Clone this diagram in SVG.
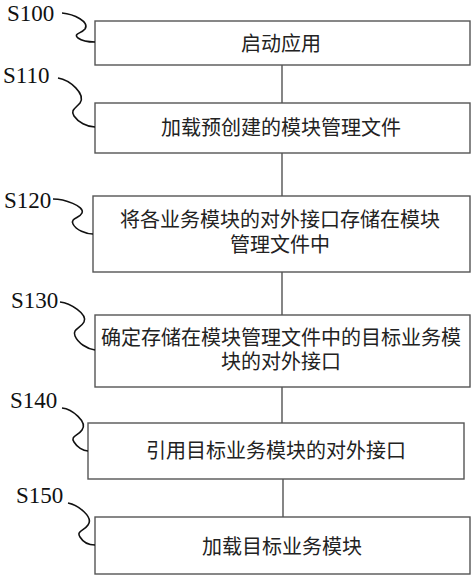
<svg xmlns="http://www.w3.org/2000/svg" width="474" height="578" viewBox="0 0 474 578">
<style>
.box{fill:#fff;stroke:#555;stroke-width:1.4}
.t{font-family:"Noto Sans CJK SC","Noto Sans CJK JP",sans-serif;font-size:20px;fill:#222;text-anchor:middle}
.lbl{font-family:"Liberation Serif",serif;font-size:23px;fill:#111}
.sq{fill:none;stroke:#111;stroke-width:1.6}
.c{stroke:#444;stroke-width:1.3;fill:none}
</style>
<rect width="474" height="578" fill="#fff"/>
<g id="connectors">
<line class="c" x1="282" y1="65" x2="282" y2="103"/>
<line class="c" x1="282" y1="153" x2="282" y2="196"/>
<line class="c" x1="282" y1="272" x2="282" y2="315"/>
<line class="c" x1="282" y1="387" x2="282" y2="423"/>
<line class="c" x1="283" y1="479" x2="283" y2="517"/>
</g>
<g id="s100">
<rect class="box" x="95" y="21" width="375" height="44"/>
<text class="t" x="281" y="51">启动应用</text>
<text class="lbl" x="7" y="21">S100</text>
<path class="sq" d="M62,13 C74,14 90,22 85,29 C81,34 73,33 78,38 C82,41 89,42 95,42"/>
</g>
<g id="s110">
<rect class="box" x="95" y="103" width="375" height="50"/>
<text class="t" x="281" y="135">加载预创建的模块管理文件</text>
<text class="lbl" x="3" y="83">S110</text>
<path class="sq" d="M58,78 C70,80 86,94 80,103 C76,108 70,110 74,116 C78,122 87,127 95,127"/>
</g>
<g id="s120">
<rect class="box" x="93" y="196" width="377" height="76"/>
<text class="t" x="280" y="227">将各业务模块的对外接口存储在模块</text>
<text class="t" x="280" y="252">管理文件中</text>
<text class="lbl" x="4" y="208">S120</text>
<path class="sq" d="M53,199 C64,199 85,206 82,213 C80,218 70,218 73,224 C76,230 86,234 93,234"/>
</g>
<g id="s130">
<rect class="box" x="95" y="315" width="375" height="72"/>
<text class="t" x="281" y="345">确定存储在模块管理文件中的目标业务模</text>
<text class="t" x="281" y="369">块的对外接口</text>
<text class="lbl" x="11" y="308">S130</text>
<path class="sq" d="M60,302 C70,303 88,314 84,322 C81,328 72,329 75,336 C78,343 87,349 95,350"/>
</g>
<g id="s140">
<rect class="box" x="88" y="423" width="376" height="56"/>
<text class="t" x="276" y="458">引用目标业务模块的对外接口</text>
<text class="lbl" x="10" y="408">S140</text>
<path class="sq" d="M62,408 C72,409 88,422 82,430 C78,436 70,436 74,442 C77,447 83,451 88,451"/>
</g>
<g id="s150">
<rect class="box" x="95" y="517" width="375" height="57"/>
<text class="t" x="282" y="554">加载目标业务模块</text>
<text class="lbl" x="16" y="503">S150</text>
<path class="sq" d="M68,503 C78,505 94,517 88,525 C84,531 76,531 80,537 C83,542 89,545 95,545"/>
</g>
</svg>
